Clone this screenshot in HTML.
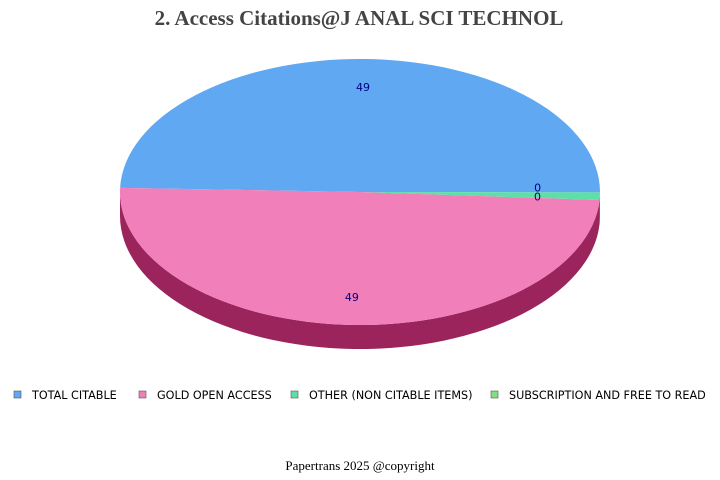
<!DOCTYPE html>
<html><head><meta charset="utf-8"><style>
body{margin:0;background:#fff;}
svg{display:block;}
</style></head><body>
<svg width="720" height="480">
<text x="359" y="25" text-anchor="middle" font-family="Liberation Serif, serif" font-weight="bold" font-size="21" fill="#444">2. Access Citations@J ANAL SCI TECHNOL</text>
<g id="pie"></g>
<g id="legend"></g>
<text x="360" y="470" text-anchor="middle" font-family="Liberation Serif, serif" font-size="13" fill="#000">Papertrans 2025 @copyright</text>
</svg>
<script>
const categories = ["TOTAL CITABLE","GOLD OPEN ACCESS","OTHER (NON CITABLE ITEMS)","SUBSCRIPTION AND FREE TO READ"];
const values = [49, 49, 0.9, 0.01];
const drawOrder = [0, 3, 2, 1];
const colors = ["#60a8f2","#f07fba","#5fdfa8","#7ee07e"];
const sideColors = ["#3a6fa8","#9b245c","#2f9a6c","#4a9a4a"];
const NS="http://www.w3.org/2000/svg";
const cx=360, cy=192, rx=240, ry=133, depth=24, startDeg=181.8;
const g=document.getElementById('pie');
const total=values.reduce((a,b)=>a+b,0);
function pt(a,dy){return [cx+rx*Math.cos(a), cy+ry*Math.sin(a)+(dy||0)];}
const slices=[]; let a=startDeg*Math.PI/180;
drawOrder.forEach(i=>{const s=a, e=a+values[i]/total*2*Math.PI; slices.push({i,s,e}); a=e;});
slices.forEach(sl=>{
  for(let k=0;k<2;k++){
    const lo=k*2*Math.PI, hi=lo+Math.PI;
    const s=Math.max(sl.s,lo), e=Math.min(sl.e,hi);
    if(e<=s) continue;
    const p1=pt(s),p2=pt(e),p3=pt(e,depth),p4=pt(s,depth);
    const lg=(e-s)>Math.PI?1:0;
    const p=document.createElementNS(NS,'path');
    p.setAttribute('d',`M${p1} A${rx},${ry} 0 ${lg} 1 ${p2} L${p3} A${rx},${ry} 0 ${lg} 0 ${p4} Z`);
    p.setAttribute('fill',sideColors[sl.i]);
    
    
    g.appendChild(p);
  }
});
slices.forEach(sl=>{
  const p1=pt(sl.s),p2=pt(sl.e);
  const lg=(sl.e-sl.s)>Math.PI?1:0;
  const p=document.createElementNS(NS,'path');
  p.setAttribute('d',`M${cx},${cy} L${p1} A${rx},${ry} 0 ${lg} 1 ${p2} Z`);
  p.setAttribute('fill',colors[sl.i]);
  
  
  g.appendChild(p);
});
slices.forEach((sl,n)=>{
  const m=(sl.s+sl.e)/2;
  let x=cx+rx*0.74*Math.cos(m), y=cy+ry*0.79*Math.sin(m)+4;
  if(values[sl.i]<2){ y = y + (n===1 ? -5 : 1); }
  const t=document.createElementNS(NS,'text');
  t.setAttribute('x',x);t.setAttribute('y',y);t.setAttribute('text-anchor','middle');
  t.setAttribute('font-family','DejaVu Sans, sans-serif');t.setAttribute('font-size','11');t.setAttribute('fill','#000080');
  t.textContent=Math.floor(values[sl.i]);
  
  
  g.appendChild(t);
});
const lg=document.getElementById('legend');
const lx=[14,139,291,491];
categories.forEach((c,i)=>{
  const r=document.createElementNS(NS,'rect');
  r.setAttribute('x',lx[i]);r.setAttribute('y',391);r.setAttribute('width',7);r.setAttribute('height',7);
  r.setAttribute('fill',colors[i]);r.setAttribute('stroke','#555');r.setAttribute('stroke-width','0.6');
  
  
  lg.appendChild(r);
  const t=document.createElementNS(NS,'text');
  t.setAttribute('x',lx[i]+18);t.setAttribute('y',399);
  t.setAttribute('font-family','DejaVu Sans, sans-serif');t.setAttribute('font-size','11.2');t.setAttribute('fill','#000');
  t.textContent=c;
  
  
  lg.appendChild(t);
});
</script>
</body></html>
